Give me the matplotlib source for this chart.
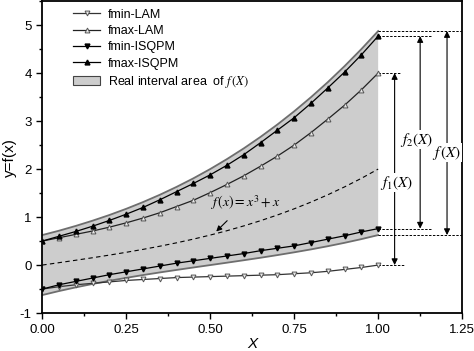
import numpy as np
import matplotlib
matplotlib.use('Agg')
from matplotlib import pyplot as plt

plt.rcParams['font.family'] = ['Liberation Sans', 'DejaVu Sans']
plt.rcParams['mathtext.fontset'] = 'stix'
plt.rcParams['axes.unicode_minus'] = False

# data (x step 0.05)
x = [0.00, 0.05, 0.10, 0.15, 0.20, 0.25, 0.30, 0.35, 0.40, 0.45, 0.50,
     0.55, 0.60, 0.65, 0.70, 0.75, 0.80, 0.85, 0.90, 0.95, 1.00]

real_upper = [0.625, 0.716, 0.816, 0.925, 1.043, 1.172, 1.312, 1.464, 1.629, 1.807, 2.000,
              2.208, 2.431, 2.671, 2.928, 3.203, 3.497, 3.810, 4.144, 4.499, 4.875]
real_lower = [-0.625, -0.541, -0.464, -0.393, -0.327, -0.266, -0.208, -0.153, -0.101, -0.050, 0.000,
              0.050, 0.101, 0.153, 0.208, 0.266, 0.327, 0.393, 0.464, 0.541, 0.625]
f_center = [0.000, 0.050, 0.101, 0.153, 0.208, 0.266, 0.327, 0.393, 0.464, 0.541, 0.625,
            0.716, 0.816, 0.925, 1.043, 1.172, 1.312, 1.464, 1.629, 1.807, 2.000]

fmin_lam = [-0.50, -0.45, -0.41, -0.38, -0.35, -0.32, -0.30, -0.28, -0.26, -0.25, -0.24,
            -0.23, -0.22, -0.21, -0.20, -0.18, -0.16, -0.13, -0.09, -0.05, 0.00]
fmax_lam = [0.50, 0.57, 0.64, 0.71, 0.79, 0.88, 0.98, 1.09, 1.22, 1.35, 1.51,
            1.68, 1.86, 2.06, 2.27, 2.50, 2.76, 3.04, 3.33, 3.65, 4.00]
fmin_isqpm = [-0.50, -0.41, -0.34, -0.27, -0.20, -0.14, -0.08, -0.02, 0.04, 0.09, 0.14,
              0.19, 0.24, 0.30, 0.35, 0.40, 0.47, 0.54, 0.61, 0.69, 0.76]
fmax_isqpm = [0.50, 0.60, 0.70, 0.81, 0.93, 1.06, 1.20, 1.36, 1.53, 1.70, 1.88,
              2.08, 2.30, 2.55, 2.81, 3.07, 3.37, 3.69, 4.02, 4.38, 4.77]

fig = plt.figure(figsize=(4.74, 3.51), dpi=100)
ax = fig.add_axes([0.089, 0.108, 0.886, 0.889])

# real interval band
ax.fill_between(x, real_lower, real_upper, facecolor='#cdcdcd', edgecolor='none', zorder=1)
ax.plot(x, real_upper, color='#6e6e6e', lw=1.3, zorder=2)
ax.plot(x, real_lower, color='#6e6e6e', lw=1.3, zorder=2)
ax.plot(x, f_center, color='black', lw=0.8, ls=(0, (4, 3)), zorder=2)

ax.plot(x, fmin_lam, color='#333333', lw=0.9, marker='v', ms=3.5, mfc='#e8e8e8',
        mec='#555555', mew=0.7, label='fmin-LAM', zorder=3)
ax.plot(x, fmax_lam, color='#222222', lw=0.9, marker='^', ms=3.5, mfc='#e8e8e8',
        mec='#555555', mew=0.7, label='fmax-LAM', zorder=3)
ax.plot(x, fmin_isqpm, color='black', lw=0.9, marker='v', ms=3.5, mfc='black',
        mec='black', label='fmin-ISQPM', zorder=3)
ax.plot(x, fmax_isqpm, color='black', lw=0.9, marker='^', ms=3.5, mfc='black',
        mec='black', label='fmax-ISQPM', zorder=3)
ax.fill_between([], [], [], facecolor='#cdcdcd', edgecolor='#444444', lw=0.8,
                label='Real interval area  of $f\\,(X)$')

# guide lines at x = 1
guides = [(real_upper[-1], 1.25), (fmax_isqpm[-1], 1.158), (fmax_lam[-1], 1.069),
          (fmin_isqpm[-1], 1.158), (real_lower[-1], 1.25), (fmin_lam[-1], 1.078)]
for yv, xend in guides:
    ax.plot([1.0, xend], [yv, yv], color='black', lw=0.7, ls=(0, (2.5, 1.5)), zorder=2)

aprops = dict(arrowstyle='<|-|>', color='black', lw=0.8, mutation_scale=9, shrinkA=0, shrinkB=0)
ax.annotate('', xy=(1.205, real_upper[-1]), xytext=(1.205, real_lower[-1]), arrowprops=aprops)
ax.annotate('', xy=(1.125, fmax_isqpm[-1]), xytext=(1.125, fmin_isqpm[-1]), arrowprops=aprops)
ax.annotate('', xy=(1.049, fmax_lam[-1]), xytext=(1.049, fmin_lam[-1]), arrowprops=aprops)

box = dict(fc='white', ec='none', pad=0.3)
ax.text(1.205, 2.34, '$f\\,(X)$', fontsize=11, ha='center', va='center', bbox=box)
ax.text(1.114, 2.61, '$f_2(X)$', fontsize=11, ha='center', va='center', bbox=box)
ax.text(1.054, 1.72, '$f_1(X)$', fontsize=11, ha='center', va='center', bbox=box)

ax.annotate('$f\\,(x) = x^3 + x$', xy=(0.518, 0.70), xytext=(0.605, 1.30),
            fontsize=10, ha='center', va='center',
            arrowprops=dict(arrowstyle='-|>', color='black', lw=0.8, mutation_scale=8,
                            shrinkA=6, shrinkB=0))

ax.set_xlim(0, 1.25)
ax.set_ylim(-1, 5.5)
ax.set_xticks([0, 0.25, 0.5, 0.75, 1.0, 1.25])
ax.set_xticklabels(['0.00', '0.25', '0.50', '0.75', '1.00', '1.25'])
ax.set_xticks([0.125, 0.375, 0.625, 0.875, 1.125], minor=True)
ax.set_yticks([-1, 0, 1, 2, 3, 4, 5])
ax.set_yticks([-0.5, 0.5, 1.5, 2.5, 3.5, 4.5, 5.5], minor=True)
ax.tick_params(which='major', direction='out', length=4, width=1, labelsize=9.5, colors='black')
ax.tick_params(which='minor', direction='out', length=2.5, width=1)
for sp in ax.spines.values():
    sp.set_linewidth(1.3)

ax.set_xlabel('X', fontsize=11, style='italic', labelpad=1)
ax.set_ylabel('y=f(x)', fontsize=11, labelpad=2)

ax.legend(loc='upper left', bbox_to_anchor=(0.055, 1.0), frameon=False, fontsize=9,
          handlelength=2.2, handletextpad=0.6, labelspacing=0.35, borderaxespad=0.2)

plt.savefig('out.png', dpi=100)
